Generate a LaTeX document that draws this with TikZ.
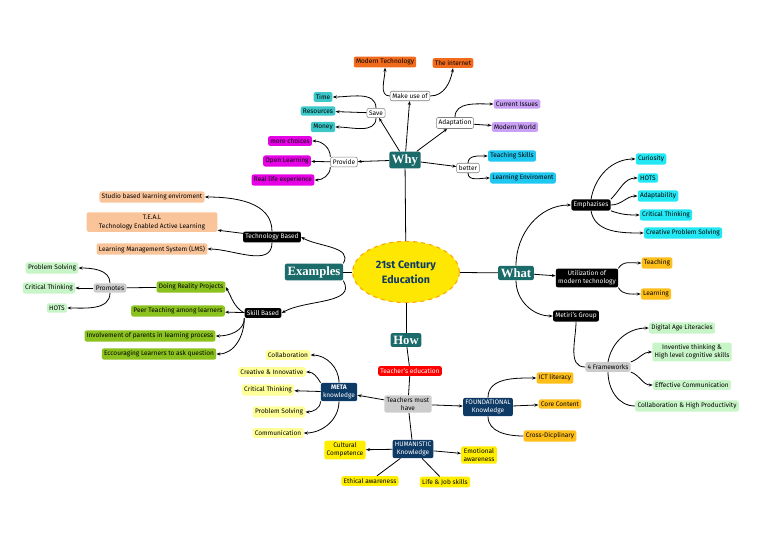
\documentclass[tikz,border=0pt]{standalone}
\usepackage{fontspec}
\setmainfont{Fira Sans}
\newfontfamily\mainser{Liberation Serif}
\usetikzlibrary{shapes.geometric,arrows.meta}
\definecolor{cteal}{HTML}{1B6B6B}
\definecolor{corange}{HTML}{F26B1D}
\definecolor{cturq}{HTML}{3CC8C8}
\definecolor{cmag}{HTML}{E600E6}
\definecolor{clav}{HTML}{C9A0F5}
\definecolor{ccyan}{HTML}{1EC8F0}
\definecolor{cbcyan}{HTML}{22E8F4}
\definecolor{cpeach}{HTML}{F9C49A}
\definecolor{cltgreen}{HTML}{C8F5C8}
\definecolor{colive}{HTML}{8CC21E}
\definecolor{cltyel}{HTML}{FFFF99}
\definecolor{cyel}{HTML}{FFEE00}
\definecolor{cgold}{HTML}{FFBF1A}
\definecolor{cnavy}{HTML}{0E3A66}
\tikzset{
 bx/.style={rounded corners=1.5pt,inner sep=1.7pt,font=\fontsize{4.9}{5.8}\selectfont,align=center},
 main/.style={bx,fill=cteal,text=white,font=\mainser\bfseries\fontsize{9.5}{10}\selectfont,inner sep=2pt},
 wbx/.style={bx,fill=white,draw=gray,text=black},
 kbx/.style={bx,fill=black,text=white},
 nbx/.style={bx,fill=cnavy,text=white},
 gbx/.style={bx,fill=gray!40},
 c/.style={bx,fill=#1},
 ar/.style={-{Stealth[length=3pt]},line width=0.6pt},
 ln/.style={line width=0.6pt},
}
\begin{document}
\begin{tikzpicture}[x=0.75pt,y=-0.75pt]
\useasboundingbox (0,0) rectangle (768,543);
\node[ellipse,fill=yellow!90!orange,draw=orange!70!yellow,dashed,line width=0.8pt,minimum width=80pt,minimum height=46pt,align=center,font=\bfseries\fontsize{8}{11}\selectfont,text=cnavy] (ctr) at (406,272) {21st Century\\Education};
\node[main] (why) at (405,160) {Why};
\node[main] (what) at (516,273) {What};
\node[main] (ex) at (314,272) {Examples};
\node[main] (how) at (406,340) {How};
% why
\node[wbx] (mu) at (410,96) {Make use of};
\node[c=corange] (mt) at (385,62) {Modern Technology};
\node[c=corange] (ti) at (453,63) {The internet};
\node[wbx] (sv) at (376,113) {Save};
\node[c=cturq] (tm) at (323,97) {Time};
\node[c=cturq] (rs) at (318,111) {Resources};
\node[c=cturq] (mn) at (323,127) {Money};
\node[wbx] (pv) at (344,162) {Provide};
\node[c=cmag] (mc) at (290,141) {more choices};
\node[c=cmag] (ol) at (287,161) {Open Learning};
\node[c=cmag] (rl) at (283,180) {Real life experience};
\node[wbx] (ad) at (455,123) {Adaptation};
\node[c=clav] (ci) at (517,104) {Current Issues};
\node[c=clav] (mw) at (515,127) {Modern World};
\node[wbx] (bt) at (468,168) {better};
\node[c=ccyan] (ts) at (512,156) {Teaching Skills};
\node[c=ccyan] (le) at (523,178) {Learning Enviroment};
\draw[ln] (ctr) -- (why);
\draw[ar] (why) -- (mu); \draw[ar] (mu.west) to[out=180,in=-90] (mt.south);
\draw[ar] (mu.east) to[out=0,in=-100] (ti.south);
\draw[ar] (why) -- (sv); \draw[ar] (sv) to[out=90,in=0] (tm); \draw[ar] (sv) -- (rs); \draw[ar] (sv) to[out=-90,in=0] (mn);
\draw[ar] (why) -- (pv); \draw[ar] (pv.north west) to[out=90,in=0] (mc); \draw[ar] (pv) -- (ol); \draw[ar] (pv.south west) to[out=-90,in=0] (rl);
\draw[ar] (why) -- (ad); \draw[ar] (ad.north) to[out=90,in=180] (ci); \draw[ar] (ad) -- (mw);
\draw[ar] (why) -- (bt); \draw[ar] (bt.north) to[out=90,in=180] (ts); \draw[ar] (bt.south) to[out=-90,in=180] (le);
% examples
\node[kbx] (tb) at (272,237) {Technology Based};
\node[c=cpeach] (sb) at (152,197) {Studio based learning enviroment};
\node[c=cpeach,minimum width=98pt] (teal) at (152,222) {T.E.A.L\\[1pt]Technology Enabled Active Learning};
\node[c=cpeach] (lms) at (152,249) {Learning Management System (LMS)};
\node[kbx] (skb) at (263,313) {Skill Based};
\node[c=colive] (dr) at (191,287) {Doing Reality Projects};
\node[c=colive] (pt) at (178,311) {Peer Teaching among learners};
\node[c=colive] (iv) at (150,336) {Involvement of parents in learning process};
\node[c=colive] (ec) at (159,354) {Eccouraging Learners to ask question};
\node[gbx] (pr) at (110,288) {Promotes};
\node[c=cltgreen] (ps) at (52,268) {Problem Solving};
\node[c=cltgreen] (ct) at (49,288) {Critical Thinking};
\node[c=cltgreen] (ho) at (57,308) {HOTS};
\draw[ln] (ctr) -- (ex);
\draw[ar] (ex.north east) to[out=60,in=-30] (tb.east);
\draw[ar] (ex.south east) to[out=-60,in=30] (skb.east);
\draw[ar] (tb.north) to[out=90,in=0] (sb); \draw[ar] (tb) -- (teal); \draw[ar] (tb.south) to[out=-90,in=0] (lms);
\draw[ar] (skb.west) to[out=150,in=-60] (dr.east); \draw[ar] (skb) -- (pt);
\draw[ar] (skb.south west) to[out=-90,in=0] (iv); \draw[ar] (skb.south west) to[out=-90,in=0] (ec);
\draw[ln] (dr) -- (pr);
\draw[ar] (pr.north) to[out=90,in=0] (ps); \draw[ar] (pr) -- (ct); \draw[ar] (pr.south) to[out=-90,in=0] (ho);
% how
\node[bx,fill=red,text=white] (te) at (410,371) {Teacher's education};
\node[gbx] (tmh) at (408,404) {Teachers must\\have};
\node[nbx] (meta) at (339,392) {\textbf{META}\\knowledge};
\node[c=cltyel] (co) at (288,355) {Collaboration};
\node[c=cltyel] (cr) at (272,372) {Creative \& Innovative};
\node[c=cltyel] (ct2) at (268,390) {Critical Thinking};
\node[c=cltyel] (ps2) at (279,412) {Problem Solving};
\node[c=cltyel] (cm) at (278,433) {Communication};
\node[nbx] (fd) at (488,407) {FOUNDATIONAL\\Knowledge};
\node[c=cgold] (ict) at (555,378) {ICT literacy};
\node[c=cgold] (cc) at (560,404) {Core Content};
\node[c=cgold] (cd) at (550,436) {Cross-Dicplinary};
\node[nbx] (hum) at (413,449) {HUMANISTIC\\Knowledge};
\node[c=cyel] (cul) at (345,450) {Cultural\\Competence};
\node[c=cyel] (emo) at (479,455) {Emotional\\awareness};
\node[c=cyel] (eth) at (370,481) {Ethical awareness};
\node[c=cyel] (lj) at (445,482) {Life \& Job skills};
\draw[ln] (ctr) -- (how); \draw[ln] (how) -- (te); \draw[ln] (te) -- (tmh);
\draw[ar] (tmh) -- (meta); \draw[ar] (tmh) -- (fd); \draw[ln] (tmh) -- (hum);
\draw[ar] (meta.north) to[out=90,in=0] (co); \draw[ar] (meta.north west) to[out=120,in=0] (cr);
\draw[ar] (meta) -- (ct2); \draw[ar] (meta.south west) to[out=-90,in=0] (ps2); \draw[ar] (meta.south) to[out=-90,in=0] (cm);
\draw[ar] (fd.north) to[out=90,in=180] (ict); \draw[ar] (fd) -- (cc); \draw[ln] (fd.south) to[out=-90,in=180] (cd);
\draw[ar] (hum) -- (cul); \draw[ar] (hum) -- (emo); \draw[ln] (hum) -- (eth); \draw[ln] (hum) -- (lj);
% what
\node[kbx] (em) at (591,205) {Emphazises};
\node[c=cbcyan] (cu) at (651,159) {Curiosity};
\node[c=cbcyan] (h2) at (648,178) {HOTS};
\node[c=cbcyan] (ap) at (658,196) {Adaptability};
\node[c=cbcyan] (ct3) at (666,215) {Critical Thinking};
\node[c=cbcyan] (cps) at (683,233) {Creative Problem Solving};
\node[kbx] (ut) at (587,278) {Utilization of\\modern technology};
\node[c=cgold] (tch) at (657,263) {Teaching};
\node[c=cgold] (lrn) at (656,294) {Learning};
\node[kbx] (mg) at (576,316) {Metiri's Group};
\node[gbx] (fw) at (608,367) {4 Frameworks};
\node[c=cltgreen] (dal) at (682,328) {Digital Age Literacies};
\node[c=cltgreen] (inv) at (692,352) {Inventive thinking \&\\High level cognitive skills};
\node[c=cltgreen] (efc) at (692,385) {Effective Communication};
\node[c=cltgreen] (chp) at (687,406) {Collaboration \& High Productivity};
\draw[ln] (ctr) -- (what);
\draw[ar] (what.north) to[out=90,in=180] (em); \draw[ar] (what) -- (ut); \draw[ar] (what.south) to[out=-90,in=180] (mg);
\draw[ar] (em.north) to[out=80,in=180] (cu); \draw[ar] (em.north east) to[out=45,in=180] (h2); \draw[ar] (em.east) to[out=0,in=180] (ap);
\draw[ar] (em.south east) to[out=-20,in=180] (ct3); \draw[ar] (em.south) to[out=-80,in=180] (cps);
\draw[ar] (ut.north east) to[out=60,in=180] (tch); \draw[ar] (ut.south east) to[out=-60,in=180] (lrn);
\draw[ln] (mg.south) to[out=-90,in=180] (fw.west);
\draw[ar] (fw.north) to[out=80,in=180] (dal); \draw[ar] (fw.north east) to[out=20,in=180] (inv);
\draw[ar] (fw.south east) to[out=-20,in=180] (efc); \draw[ln] (fw.south) to[out=-90,in=180] (chp);
\end{tikzpicture}
\end{document}
